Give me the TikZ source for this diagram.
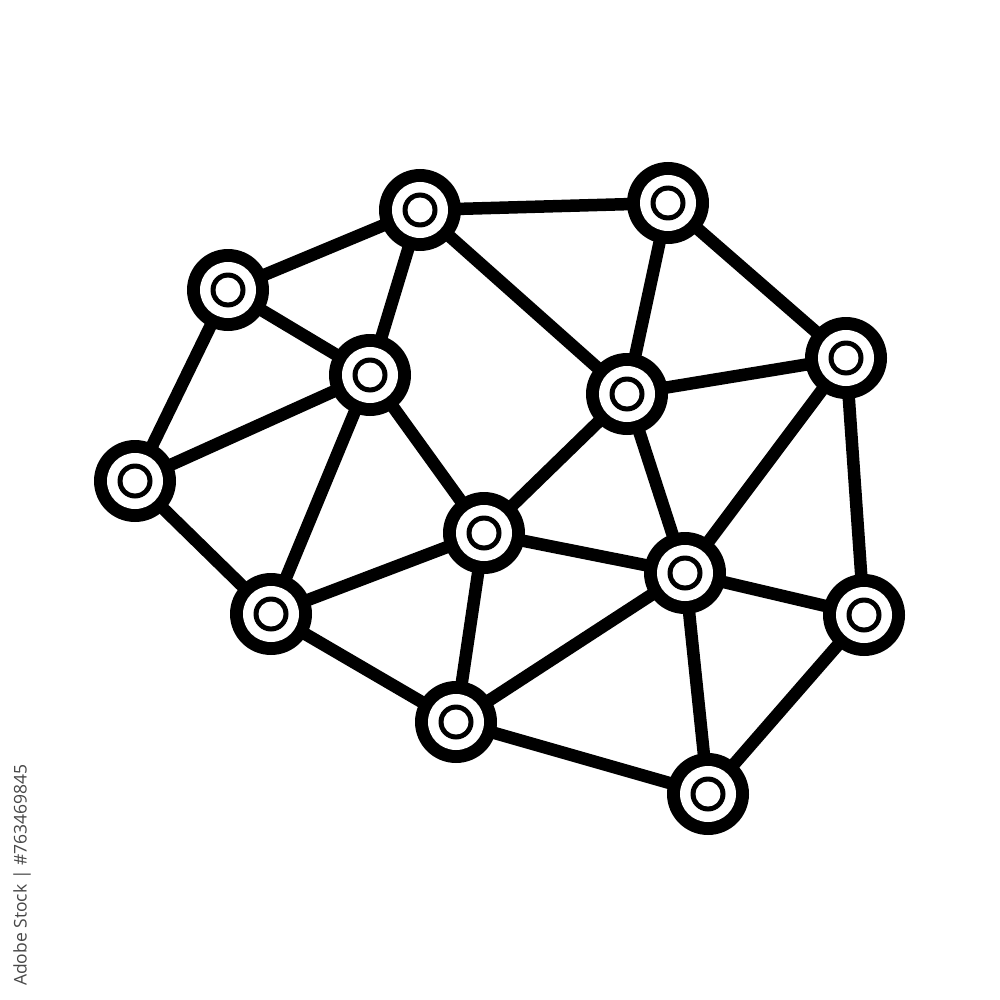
\documentclass[tikz,border=0pt]{standalone}
\usepackage{fontspec}
\newfontfamily\wmfont{Open Sans}
\begin{document}
\begin{tikzpicture}[x=1pt,y=-1pt,
  edge/.style={line width=12.5pt},
  hub/.style={circle,fill=black,minimum size=82pt,inner sep=0pt,outer sep=0pt}]
\useasboundingbox (0,0) rectangle (1000,1000);
\fill[white] (0,0) rectangle (1000,1000);
\coordinate (A) at (420,210);
\coordinate (B) at (668,203);
\coordinate (C) at (228,290);
\coordinate (D) at (370,375);
\coordinate (E) at (627,394);
\coordinate (F) at (846,358);
\coordinate (G) at (135,481);
\coordinate (H) at (484,533);
\coordinate (I) at (685,573);
\coordinate (J) at (271,614);
\coordinate (K) at (864,615);
\coordinate (L) at (456,722);
\coordinate (M) at (708,794);
\foreach \a/\b in {A/B,C/A,A/D,A/E,B/E,B/F,C/D,C/G,D/G,D/H,D/J,E/F,E/H,E/I,F/I,F/K,G/J,H/J,H/I,H/L,J/L,I/L,I/K,I/M,L/M,K/M}
  \draw[edge] (\a) -- (\b);
\foreach \n in {A,B,C,D,E,F,G,H,I,J,K,L,M}{
  \node[hub] (n\n) at (\n) {};
  \fill[white] (n\n.center) circle [radius=28pt];
  \fill[black] (n\n.center) circle [radius=17.5pt];
  \fill[white] (n\n.center) circle [radius=12.5pt];
}
\node[rotate=90,anchor=west,text=black!72,font=\wmfont\fontsize{17.5}{20}\selectfont,inner sep=0pt] (wm) at (22,986) {Adobe Stock | \#763469845};
\end{tikzpicture}
\end{document}
